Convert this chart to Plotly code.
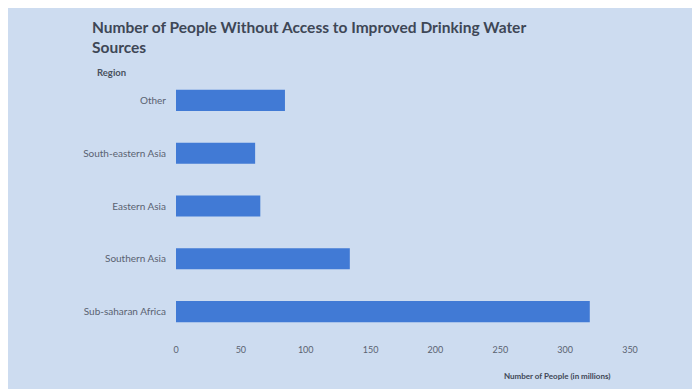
import plotly.graph_objects as go

regions = ["Sub-saharan Africa", "Southern Asia", "Eastern Asia", "South-eastern Asia", "Other"]
people_millions = [319, 134, 65, 61, 84]
x_ticks = [0, 50, 100, 150, 200, 250, 300, 350]

BG = "#cddcf0"
BAR = "#417ad5"
TXT = "#4a5260"

W, H = 700, 389
L, R, T, B = 168, 78, 66, 59
pw = W - L - R
ph = H - T - B

fig = go.Figure(go.Bar(
    y=regions, x=people_millions, orientation="h",
    marker=dict(color=BAR, line=dict(width=0)), width=0.4,
))

fig.update_layout(
    width=W, height=H,
    paper_bgcolor=BG, plot_bgcolor=BG,
    margin=dict(l=L, r=R, t=T, b=B),
    showlegend=False,
    font=dict(family="Lato, Open Sans, sans-serif", color=TXT),
    title=dict(
        text="<b>Number of People Without Access to Improved Drinking Water<br>Sources</b>",
        x=84 / W, xanchor="left", xref="container",
        y=1 - 25 / H, yanchor="top", yref="container",
        font=dict(size=15.5, color="#3e4756"),
    ),
    xaxis=dict(
        range=[0, 350], tickvals=x_ticks, showgrid=False, zeroline=False,
        showline=False, ticks="", tickfont=dict(size=9, color="#5a6270"),
        ticklabelstandoff=5, automargin=False,
    ),
    yaxis=dict(
        showgrid=False, zeroline=False, showline=False, ticks="",
        tickfont=dict(size=10, color="#5a6270"), automargin=False,
        ticklabelstandoff=9, range=[-0.5, 4.5],
    ),
)

fig.add_annotation(
    text="<b>Region</b>", x=(87 - L) / pw, y=(H - B - 65) / ph,
    xref="paper", yref="paper", showarrow=False, xanchor="left", yanchor="middle",
    font=dict(size=9.5, color="#4a5260"),
)
fig.add_annotation(
    text="<b>Number of People (in millions)</b>", x=(604 - L) / pw, y=(H - B - 368) / ph,
    xref="paper", yref="paper", showarrow=False, xanchor="right", yanchor="middle",
    font=dict(size=8, color="#3e4756"),
)

fig.write_html("out.html")
